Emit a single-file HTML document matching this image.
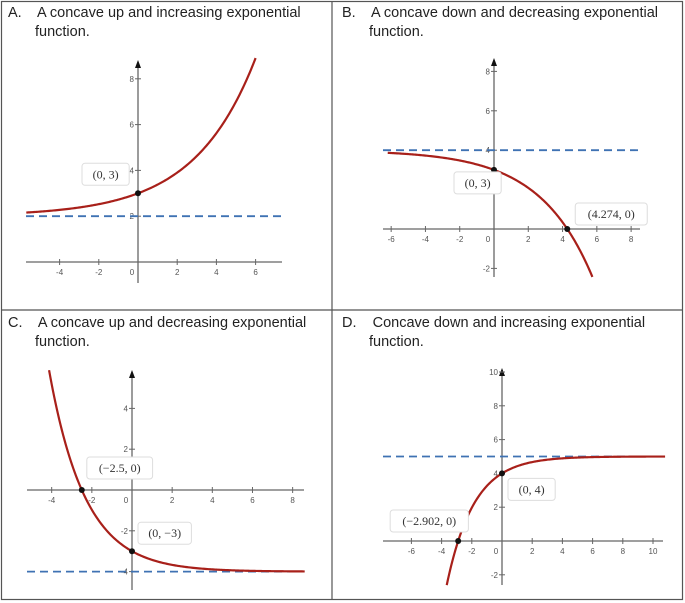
<!DOCTYPE html>
<html><head><meta charset="utf-8"><style>
html,body{margin:0;padding:0;background:#fff;width:685px;height:603px;overflow:hidden}
.t{position:absolute;font-family:"Liberation Sans",sans-serif;font-size:14.5px;color:#222;line-height:19px}
</style></head><body>
<div style="position:relative;width:685px;height:603px">
<svg id="s" width="685" height="603" style="position:absolute;left:0;top:0">
<rect x="1.5" y="1.5" width="681" height="598" fill="none" stroke="#555" stroke-width="1.2"/>
<line x1="332" y1="1" x2="332" y2="600" stroke="#555" stroke-width="1.2"/>
<line x1="1" y1="310" x2="683" y2="310" stroke="#555" stroke-width="1.2"/>
</svg>
<div class="t" style="left:8px;top:4px">A.&nbsp;&nbsp;&nbsp; A concave up and increasing exponential<br><span style="padding-left:27px">function.</span></div>
<div class="t" style="left:342px;top:4px">B.&nbsp;&nbsp;&nbsp; A concave down and decreasing exponential<br><span style="padding-left:27px">function.</span></div>
<div class="t" style="left:8px;top:314px">C.&nbsp;&nbsp;&nbsp; A concave up and decreasing exponential<br><span style="padding-left:27px">function.</span></div>
<div class="t" style="left:342px;top:314px">D.&nbsp;&nbsp;&nbsp; Concave down and increasing exponential<br><span style="padding-left:27px">function.</span></div>
</div>
<script>
// data: f(x) = asym + sign * base^(dir*x)
const panelIds=['a','b','c','d'];
const asymptotes=[2,4,-4,5];
const signs=[1,-1,1,-1];
const bases=[1.38,1.383,1.741,1.741];
const dirs=[1,1,-1,-1];
const xDomains=[[-5.7,6],[-6.2,5.74],[-4.13,8.6],[-3.66,10.8]];
const xTicks=[[-4,-2,0,2,4,6],[-6,-4,-2,0,2,4,6,8],[-4,-2,0,2,4,6,8],[-6,-4,-2,0,2,4,6,8,10]];
const yTicks=[[2,4,6,8],[-2,2,4,6,8],[-4,-2,2,4],[-2,2,4,6,8,10]];
const pointXs=[[0],[0,4.274],[-2.5,0],[-2.902,0]];
const pointLabels=[["(0, 3)"],["(0, 3)","(4.274, 0)"],["(−2.5, 0)","(0, −3)"],["(−2.902, 0)","(0, 4)"]];
// layout (not data)
const L=[
 {ox:138,oy:262,sx:19.6,sy:22.9,x0:26,x1:282,y0:60,y1:283,lab:[[-56,-30]]},
 {ox:494,oy:229,sx:17.14,sy:19.7,x0:383,x1:640,y0:58,y1:277,lab:[[-40,2],[8,-26]]},
 {ox:132,oy:490,sx:20.08,sy:20.4,x0:27,x1:304,y0:370,y1:590,lab:[[5,-33],[6,-29]]},
 {ox:502,oy:541,sx:15.1,sy:16.9,x0:383,x1:663,y0:368,y1:585,lab:[[-68,-31],[6,5]]}
];
const NS='http://www.w3.org/2000/svg';
const svg=document.getElementById('s');
function mk(t,a,p){const e=document.createElementNS(NS,t);for(const k in a)e.setAttribute(k,a[k]);(p||svg).appendChild(e);return e;}
panelIds.forEach((id,i)=>{
 const l=L[i];
 const X=v=>l.ox+v*l.sx, Y=v=>l.oy-v*l.sy;
 const f=x=>asymptotes[i]+signs[i]*Math.pow(bases[i],dirs[i]*x);
 const g=mk('g',{});
 
 
 const xa=mk('line',{x1:l.x0,y1:l.oy,x2:l.x1,y2:l.oy,stroke:'#666','stroke-width':1.3},g);
 
 
 const ya=mk('line',{x1:l.ox,y1:l.y0+4,x2:l.ox,y2:l.y1,stroke:'#666','stroke-width':1.3},g);
 
 
 const ar=mk('path',{d:`M${l.ox-3},${l.y0+8}L${l.ox},${l.y0}L${l.ox+3},${l.y0+8}Z`,fill:'#111'},g);
 
 
 xTicks[i].forEach(v=>{
  if(v!==0)mk('line',{x1:X(v),y1:l.oy-3,x2:X(v),y2:l.oy+3,stroke:'#666'},g);
  const t=mk('text',{x:v===0?X(v)-6:X(v),y:l.oy+13,'font-size':8,'text-anchor':'middle',fill:'#555','font-family':'Liberation Sans, sans-serif'},g);
  t.textContent=v<0?'-'+(-v):v;
  
  
 });
 yTicks[i].forEach(v=>{
  mk('line',{x1:l.ox-3,y1:Y(v),x2:l.ox+3,y2:Y(v),stroke:'#666'},g);
  const t=mk('text',{x:l.ox-4,y:Y(v)+3,'font-size':8,'text-anchor':'end',fill:'#555','font-family':'Liberation Sans, sans-serif'},g);
  t.textContent=v<0?'-'+(-v):v;
  
  
 });
 const as=mk('line',{x1:l.x0,y1:Y(asymptotes[i]),x2:l.x1,y2:Y(asymptotes[i]),stroke:'#3f72b3','stroke-width':1.8,'stroke-dasharray':'8,5'},g);
 
 
 const [a,b]=xDomains[i];let d='';
 for(let k=0;k<=200;k++){const x=a+(b-a)*k/200;d+=(k?'L':'M')+X(x).toFixed(2)+','+Y(f(x)).toFixed(2);}
 const c=mk('path',{d,fill:'none',stroke:'#a8201a','stroke-width':2.2},g);
 
 
 pointXs[i].forEach((px,j)=>{
  const py=f(px);const cx=X(px),cy=Y(Math.abs(py)<1e-6?0:py);
  const p=mk('circle',{cx,cy,r:3,fill:'#111'},g);
  
  
  const txt=pointLabels[i][j];const w=txt.length*6.2+10;
  const bx=cx+l.lab[j][0],by=cy+l.lab[j][1];
  const r=mk('rect',{x:bx,y:by,width:w,height:22,rx:3,fill:'#fff',stroke:'#ddd'},g);
  
  
  const t=mk('text',{x:bx+w/2,y:by+15,'font-size':12,'text-anchor':'middle',fill:'#333','font-family':'Liberation Serif, serif'},g);
  t.textContent=txt;
  
  
 });
});
</script>
</body></html>
